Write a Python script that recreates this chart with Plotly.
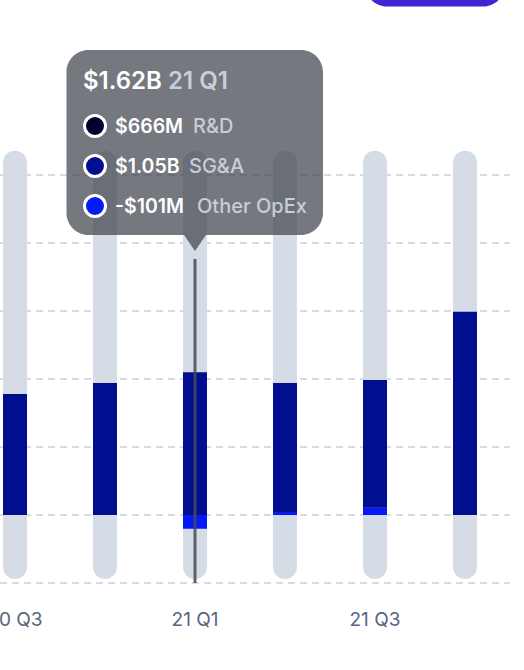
import plotly.graph_objects as go

# ---------------- data ----------------
categories = ["20 Q3", "20 Q4", "21 Q1", "21 Q2", "21 Q3", "21 Q4"]
sga = [890, 970, 1050, 948, 939, 1495]          # $M
other_opex = [0, 0, -101, 22, 54, 0]             # $M
tick_labels = ["20 Q3", "21 Q1", "21 Q3"]

# tooltip (hovered quarter)
hover_cat = "21 Q1"
tip_total = 1620
tip_series = ["R&D", "SG&A", "Other OpEx"]
tip_values = [666, 1050, -101]
series_colors = ["#03012f", "#000e8f", "#0519f5"]

# background track (capsule) extent in $M
track_top = 2679
track_bottom = -471

W, H = 524, 670
PLOT_L, PLOT_R = 0, 510
PLOT_T, PLOT_B = 140, 590
ZERO_PX, PX_PER_500 = 515, 68
M_PER_PX = 500 / PX_PER_500

def v_at(py):
    return (ZERO_PX - py) * M_PER_PX

yr = [v_at(PLOT_B), v_at(PLOT_T)]
CAT_W = 90
xr = [-(15 - PLOT_L) / CAT_W, (PLOT_R - 15) / CAT_W]

def fx(px):
    return px / W

def fy(py):
    return 1 - py / H

def fmt(v):
    s = "-" if v < 0 else ""
    a = abs(v)
    if a >= 1000:
        return f"{s}${a/1000:.2f}B"
    return f"{s}${a:.0f}M"

idx = list(range(len(categories)))
n = len(idx)
BAR_PX = 24
bar_w = BAR_PX / CAT_W
cap_r = (BAR_PX / 2) * M_PER_PX   # end-cap radius in value units

pos_other = [max(o, 0) for o in other_opex]
sga_base = pos_other
TRACK = "#d6dce5"

fig = go.Figure()
# background tracks: one bar rounded at its top, one (negative) rounded at its bottom
fig.add_trace(go.Bar(x=idx, y=[track_top - (track_bottom + cap_r)] * n,
                     base=[track_bottom + cap_r] * n, width=bar_w,
                     marker=dict(color=TRACK, cornerradius=BAR_PX // 2, line_width=0)))
fig.add_trace(go.Bar(x=idx, y=[track_bottom - (track_top - cap_r)] * n,
                     base=[track_top - cap_r] * n, width=bar_w,
                     marker=dict(color=TRACK, cornerradius=BAR_PX // 2, line_width=0)))
# data
fig.add_trace(go.Bar(x=idx, y=other_opex, base=0, width=bar_w, name="Other OpEx",
                     marker=dict(color=series_colors[2], line_width=0)))
fig.add_trace(go.Bar(x=idx, y=sga, base=sga_base, width=bar_w, name="SG&A",
                     marker=dict(color=series_colors[1], line_width=0)))

hi = categories.index(hover_cat)
hx_px = PLOT_L + (hi - xr[0]) / (xr[1] - xr[0]) * (PLOT_R - PLOT_L)

shapes = []
# spike line
shapes.append(dict(type="line", xref="x", yref="paper", x0=hi, x1=hi,
                   y0=fy(583), y1=fy(259), layer="above",
                   line=dict(color="rgba(70,75,86,0.85)", width=3)))

def P(px, py):
    return f"{fx(px):.5f},{fy(py):.5f}"

# tooltip box with arrow
x0, x1, y0, y1, r = 66.5, 323, 50, 235, 22
aw, tip = 11, 251
k = 0.5523 * r
path = (f"M {P(x0 + r, y0)} L {P(x1 - r, y0)} "
        f"C {P(x1 - r + k, y0)} {P(x1, y0 + r - k)} {P(x1, y0 + r)} "
        f"L {P(x1, y1 - r)} "
        f"C {P(x1, y1 - r + k)} {P(x1 - r + k, y1)} {P(x1 - r, y1)} "
        f"L {P(hx_px + aw, y1)} L {P(hx_px, tip)} L {P(hx_px - aw, y1)} "
        f"L {P(x0 + r, y1)} "
        f"C {P(x0 + r - k, y1)} {P(x0, y1 - r + k)} {P(x0, y1 - r)} "
        f"L {P(x0, y0 + r)} "
        f"C {P(x0, y0 + r - k)} {P(x0 + r - k, y0)} {P(x0 + r, y0)} Z")
shapes.append(dict(type="path", xref="paper", yref="paper", path=path,
                   fillcolor="rgba(58,62,72,0.70)", line_width=0, layer="above"))

# purple button (partially visible at top right)
bx0, bx1, by0, by1, br = 365, 505, -40, 6.5, 22
kb = 0.5523 * br
bpath = (f"M {P(bx0, by0)} L {P(bx1, by0)} L {P(bx1, by1 - br)} "
         f"C {P(bx1, by1 - br + kb)} {P(bx1 - br + kb, by1)} {P(bx1 - br, by1)} "
         f"L {P(bx0 + br, by1)} "
         f"C {P(bx0 + br - kb, by1)} {P(bx0, by1 - br + kb)} {P(bx0, by1 - br)} Z")
shapes.append(dict(type="path", xref="paper", yref="paper", path=bpath,
                   fillcolor="#4324d3", line_width=0, layer="above"))

annotations = []
FONT = "Inter, Noto Sans, sans-serif"
row_y = [126, 166, 206]
val_x = 113
lab_x = [191, 187, 195]
for i, (nm, v, c) in enumerate(zip(tip_series, tip_values, series_colors)):
    cy = row_y[i]
    shapes.append(dict(type="circle", xref="paper", yref="paper",
                       x0=fx(95 - 10.5), x1=fx(95 + 10.5),
                       y0=fy(cy + 10.5), y1=fy(cy - 10.5),
                       fillcolor=c, line=dict(color="white", width=3), layer="above"))
    annotations.append(dict(xref="paper", yref="paper", x=fx(val_x), y=fy(cy),
                            xanchor="left", yanchor="middle", showarrow=False,
                            text=fmt(v),
                            font=dict(family=FONT, size=19.5, color="white", weight=600)))
    annotations.append(dict(xref="paper", yref="paper", x=fx(lab_x[i]), y=fy(cy),
                            xanchor="left", yanchor="middle", showarrow=False,
                            text=nm,
                            font=dict(family=FONT, size=20, color="#c8cdd7", weight=500)))
annotations.append(dict(xref="paper", yref="paper", x=fx(81), y=fy(81),
                        xanchor="left", yanchor="middle", showarrow=False,
                        text=fmt(tip_total),
                        font=dict(family=FONT, size=24, color="white", weight=600)))
annotations.append(dict(xref="paper", yref="paper", x=fx(166), y=fy(81),
                        xanchor="left", yanchor="middle", showarrow=False,
                        text=hover_cat,
                        font=dict(family=FONT, size=24, color="#c8cdd7", weight=600)))

fig.update_layout(
    template="none",
    width=W, height=H,
    margin=dict(l=0, r=0, t=0, b=0),
    paper_bgcolor="white", plot_bgcolor="white",
    barmode="overlay", showlegend=False, hovermode=False,
    shapes=shapes, annotations=annotations,
    xaxis=dict(domain=[fx(PLOT_L), fx(PLOT_R)], range=xr, automargin=False,
               tickmode="array", tickvals=[categories.index(t) for t in tick_labels],
               ticktext=tick_labels, showgrid=False, zeroline=False, showline=False,
               ticks="", ticklabelstandoff=16, ticklabeloverflow="allow",
               tickfont=dict(family=FONT, size=19, color="#56647d")),
    yaxis=dict(domain=[fy(PLOT_B), fy(PLOT_T)], range=yr, automargin=False,
               dtick=500, tick0=0, showticklabels=False, showgrid=True,
               gridcolor="#d6dbe4", gridwidth=1.5, griddash="7px,5px",
               zeroline=False, showline=False, ticks=""),
)

fig.write_html("out.html",
               config={"displayModeBar": False, "staticPlot": True},
               post_script="document.body.style.margin='0px';"
                           "document.body.style.overflow='hidden';")
